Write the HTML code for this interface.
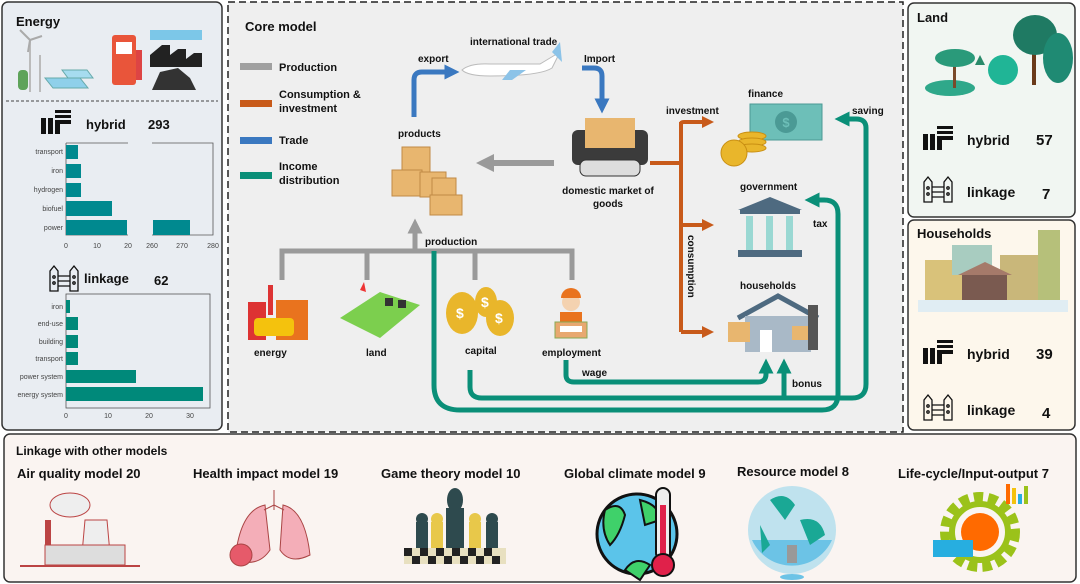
<!DOCTYPE html>
<html><head><meta charset="utf-8"><style>
html,body{margin:0;padding:0;background:#fff;}
svg{display:block;font-family:"Liberation Sans",Arial,sans-serif;}
.b{font-weight:bold;fill:#111;}
.t{font-size:7px;fill:#444;}
</style></head><body>
<svg width="1080" height="584" viewBox="0 0 1080 584" xmlns="http://www.w3.org/2000/svg">
<defs>
<g id="hy"><rect x="0" y="8" width="5" height="16" fill="#111"/><rect x="7" y="8" width="5" height="16" fill="#111"/><rect x="14" y="0" width="16" height="3" fill="#111"/><rect x="14" y="5" width="16" height="3" fill="#111"/><rect x="14" y="10" width="16" height="4" fill="#111"/><rect x="14" y="10" width="5" height="14" fill="#111"/></g>
<g id="lk" fill="none" stroke="#111" stroke-width="1.3"><path d="M1 26 V6 L5 1 L9 6 V26 Z"/><path d="M21 26 V6 L25 1 L29 6 V26 Z"/><path d="M9 11 H21 M9 16 H21 M9 21 H21"/><circle cx="5" cy="12" r="1.2"/><circle cx="5" cy="18" r="1.2"/><circle cx="25" cy="12" r="1.2"/><circle cx="25" cy="18" r="1.2"/></g>
<marker id="ao" viewBox="0 0 10 10" refX="5" refY="5" markerWidth="3" markerHeight="3" orient="auto"><path d="M0 0 L10 5 L0 10 z" fill="#c85a1a"/></marker>
<marker id="ab" viewBox="0 0 10 10" refX="5" refY="5" markerWidth="3" markerHeight="3" orient="auto"><path d="M0 0 L10 5 L0 10 z" fill="#3a78c0"/></marker>
<marker id="ag" viewBox="0 0 10 10" refX="5" refY="5" markerWidth="3" markerHeight="3" orient="auto"><path d="M0 0 L10 5 L0 10 z" fill="#9a9a9a"/></marker>
<marker id="at" viewBox="0 0 10 10" refX="5" refY="5" markerWidth="3" markerHeight="3" orient="auto"><path d="M0 0 L10 5 L0 10 z" fill="#0a8f78"/></marker>
</defs>

<!-- Energy panel -->
<rect x="2" y="2" width="220" height="428" rx="6" fill="#e9edf2" stroke="#333" stroke-width="1.5"/>
<text x="16" y="26" class="b" font-size="13">Energy</text>
<line x1="6" y1="101" x2="218" y2="101" stroke="#444" stroke-dasharray="3,2"/>
<!-- energy icons -->
<g><line x1="30" y1="40" x2="30" y2="92" stroke="#bbb" stroke-width="2"/><line x1="40" y1="55" x2="40" y2="92" stroke="#bbb" stroke-width="2"/><path d="M30 40 l-10 -10 M30 40 l12 -4 M30 40 l-2 12" stroke="#aaa" stroke-width="2"/>
<rect x="18" y="70" width="10" height="20" fill="#5ea35a" rx="4"/><path d="M45 78 l35 0 l8 10 l-35 0z" fill="#8fd0ea" stroke="#6aa"/><path d="M62 70 l25 0 l6 8 l-25 0z" fill="#a6dcef" stroke="#6aa"/>
<rect x="112" y="35" width="24" height="50" rx="3" fill="#e9553a"/><rect x="116" y="42" width="16" height="12" fill="#fff"/><rect x="136" y="50" width="6" height="30" fill="#d44"/>
<path d="M150 55 l12 -10 l8 0 l0 10 l8 -6 l8 0 l0 10 l8 -6 l8 0 l0 14 l-52 0z" fill="#222"/><rect x="150" y="30" width="52" height="10" fill="#7cc7e8"/>
<path d="M152 90 l8 -18 l18 -4 l12 10 l6 12z" fill="#333"/></g>
<!-- hybrid -->
<use href="#hy" x="41" y="110"/>
<text x="86" y="129" class="b" font-size="13">hybrid</text>
<text x="148" y="129" class="b" font-size="13">293</text>
<path d="M66 143 V235 H128 M152 235 H213 V143 H152 M128 143 H66" fill="none" stroke="#555" stroke-width="0.8"/>
<g fill="#00898f"><rect x="66" y="145" width="12" height="14"/><rect x="66" y="164" width="15" height="14"/><rect x="66" y="183" width="15" height="14"/><rect x="66" y="201" width="46" height="15"/><rect x="66" y="220" width="61" height="15"/><rect x="153" y="220" width="37" height="15"/></g>
<g class="t" text-anchor="end"><text x="63" y="154">transport</text><text x="63" y="173">iron</text><text x="63" y="192">hydrogen</text><text x="63" y="211">biofuel</text><text x="63" y="230">power</text></g>
<g class="t" text-anchor="middle"><text x="66" y="248">0</text><text x="97" y="248">10</text><text x="128" y="248">20</text><text x="152" y="248">260</text><text x="182" y="248">270</text><text x="213" y="248">280</text></g>
<!-- linkage -->
<use href="#lk" x="49" y="265"/>
<text x="84" y="283" class="b" font-size="13">linkage</text>
<text x="154" y="285" class="b" font-size="13">62</text>
<rect x="66" y="294" width="144" height="114" fill="none" stroke="#555" stroke-width="0.8"/>
<g fill="#00897a"><rect x="66" y="300" width="4" height="13"/><rect x="66" y="317" width="12" height="13"/><rect x="66" y="335" width="12" height="13"/><rect x="66" y="352" width="12" height="13"/><rect x="66" y="370" width="70" height="13"/><rect x="66" y="387" width="137" height="14"/></g>
<g class="t" text-anchor="end"><text x="63" y="309">iron</text><text x="63" y="326">end-use</text><text x="63" y="344">building</text><text x="63" y="361">transport</text><text x="63" y="379">power system</text><text x="63" y="397">energy system</text></g>
<g class="t" text-anchor="middle"><text x="66" y="418">0</text><text x="108" y="418">10</text><text x="149" y="418">20</text><text x="190" y="418">30</text></g>

<!-- Core model -->
<rect x="228" y="2" width="675" height="430" fill="#efefef" stroke="#222" stroke-width="1.5" stroke-dasharray="7,4"/>
<text x="245" y="31" class="b" font-size="13">Core model</text>
<rect x="240" y="63" width="32" height="7" fill="#a0a0a0"/><text x="279" y="71" class="b" font-size="11">Production</text>
<rect x="240" y="100" width="32" height="7" fill="#c85a1a"/><text x="279" y="98" class="b" font-size="11">Consumption &amp;</text><text x="279" y="112" class="b" font-size="11">investment</text>
<rect x="240" y="137" width="32" height="7" fill="#3a78c0"/><text x="279" y="144" class="b" font-size="11">Trade</text>
<rect x="240" y="172" width="32" height="7" fill="#0a8f78"/><text x="279" y="170" class="b" font-size="11">Income</text><text x="279" y="184" class="b" font-size="11">distribution</text>

<g font-size="10" class="b">
<text x="470" y="45">international trade</text>
<text x="418" y="62">export</text><text x="584" y="62">Import</text>
<text x="398" y="137">products</text>
<text x="608" y="194" text-anchor="middle">domestic market of</text>
<text x="608" y="207" text-anchor="middle">goods</text>
<text x="666" y="114">investment</text>
<text x="748" y="97">finance</text><text x="852" y="114">saving</text>
<text x="740" y="190">government</text><text x="813" y="227">tax</text>
<text x="740" y="289">households</text>
<text x="425" y="245">production</text>
<text x="254" y="356">energy</text><text x="366" y="356">land</text><text x="465" y="354">capital</text><text x="542" y="356">employment</text>
<text x="582" y="376">wage</text><text x="792" y="387">bonus</text>
<text transform="translate(688,235) rotate(90)">consumption</text>
</g>

<!-- trade arrows -->
<path d="M414 117 V80 Q414 72 422 72 H452" fill="none" stroke="#3a78c0" stroke-width="5" marker-end="url(#ab)"/>
<path d="M582 68 H594 Q602 68 602 76 V106" fill="none" stroke="#3a78c0" stroke-width="5" marker-end="url(#ab)"/>
<!-- plane -->
<path d="M462 70 Q470 63 490 64 L540 64 L560 52 L552 68 Q540 76 490 76 Q468 76 462 70z" fill="#fff" stroke="#bbb"/><path d="M510 70 l-8 10 l10 0 l14 -10z" fill="#8cc3e8"/><path d="M552 52 l8 -10 l2 20z" fill="#8cc3e8"/>
<!-- products boxes -->
<g fill="#e8b66f" stroke="#c08a45"><rect x="402" y="147" width="28" height="26"/><rect x="392" y="170" width="30" height="26"/><rect x="420" y="172" width="26" height="25"/><rect x="432" y="178" width="24" height="20"/><rect x="430" y="195" width="32" height="20"/></g>
<!-- gray arrow -->
<path d="M554 163 H485" stroke="#9a9a9a" stroke-width="6" marker-end="url(#ag)"/>
<!-- market -->
<rect x="572" y="130" width="76" height="35" rx="6" fill="#3b3b3b"/><rect x="585" y="118" width="50" height="30" fill="#e8b66f"/><rect x="580" y="160" width="60" height="16" rx="6" fill="#ddd" stroke="#333"/>
<!-- orange -->
<path d="M650 163 H681 M681 122 V332" fill="none" stroke="#c85a1a" stroke-width="4"/>
<path d="M681 124 Q681 122 684 122 H708" fill="none" stroke="#c85a1a" stroke-width="4" marker-end="url(#ao)"/>
<path d="M681 225 H708" stroke="#c85a1a" stroke-width="4" marker-end="url(#ao)"/>
<path d="M681 332 H708" stroke="#c85a1a" stroke-width="4" marker-end="url(#ao)"/>
<!-- finance -->
<rect x="750" y="104" width="72" height="36" fill="#6dbfb8" stroke="#4b9a95"/><circle cx="786" cy="122" r="11" fill="#4b9a95"/><text x="786" y="127" text-anchor="middle" font-size="13" fill="#6dbfb8" font-weight="bold">$</text>
<g fill="#e9b62b" stroke="#c98f12"><ellipse cx="752" cy="136" rx="14" ry="4"/><ellipse cx="752" cy="142" rx="14" ry="4"/><ellipse cx="752" cy="148" rx="14" ry="4"/><circle cx="734" cy="153" r="13"/></g>
<!-- government -->
<path d="M738 210 L770 197 L802 210z" fill="#4e6a80"/><rect x="740" y="210" width="60" height="4" fill="#4e6a80"/><g fill="#9ad8d3"><rect x="746" y="216" width="7" height="34"/><rect x="766" y="216" width="7" height="34"/><rect x="786" y="216" width="7" height="34"/></g><rect x="738" y="250" width="64" height="7" fill="#4e6a80"/>
<!-- households -->
<path d="M738 318 L778 296 L818 318" fill="none" stroke="#4e6a80" stroke-width="5"/><rect x="745" y="316" width="66" height="36" fill="#a9b9c7"/><rect x="760" y="330" width="12" height="22" fill="#fff"/><rect x="728" y="322" width="22" height="20" fill="#e8b66f"/><rect x="792" y="326" width="16" height="14" fill="#e8b66f"/><rect x="808" y="305" width="10" height="45" fill="#555"/>
<!-- production gray -->
<path d="M282 280 V251 H572 V280 M367 251 V280 M475 251 V280" fill="none" stroke="#9a9a9a" stroke-width="5"/>
<path d="M415 251 V226" stroke="#9a9a9a" stroke-width="5" marker-end="url(#ag)"/>
<!-- energy icon -->
<rect x="248" y="302" width="18" height="38" fill="#d33"/><rect x="268" y="285" width="5" height="30" fill="#d33"/><rect x="276" y="300" width="32" height="40" fill="#e9731e"/><rect x="254" y="318" width="40" height="18" rx="4" fill="#f4c20d"/>
<!-- land -->
<path d="M340 318 L380 292 L420 305 L380 338z" fill="#7ccf4e"/><path d="M360 290 l4 -8 l2 10z" fill="#e33"/><rect x="385" y="298" width="8" height="8" fill="#333"/><rect x="398" y="300" width="8" height="8" fill="#333"/>
<!-- capital -->
<g fill="#e9b62b"><ellipse cx="462" cy="313" rx="16" ry="21"/><ellipse cx="486" cy="302" rx="11" ry="15"/><ellipse cx="500" cy="318" rx="14" ry="18"/></g><g font-size="14" fill="#fff" font-weight="bold"><text x="456" y="318">$</text><text x="481" y="307">$</text><text x="495" y="323">$</text></g>
<!-- employment -->
<circle cx="571" cy="302" r="9" fill="#f4d2b0"/><path d="M561 298 a10 10 0 0 1 20 0z" fill="#e9731e"/><rect x="560" y="312" width="22" height="14" fill="#e9731e"/><rect x="555" y="322" width="32" height="16" fill="#e8a870" stroke="#8a5" /><rect x="560" y="326" width="22" height="6" fill="#fff"/>
<!-- teal -->
<g fill="none" stroke="#0a8f78" stroke-width="5">
<path d="M434 251 V385 Q434 410 460 410 H822 Q838 410 838 394 V214 Q838 200 824 200 H812" marker-end="url(#at)"/>
<path d="M470 370 V387 Q470 398 482 398 H852 Q866 398 866 384 V128 Q866 119 856 119 H842" marker-end="url(#at)"/>
<path d="M784 398 V366" marker-end="url(#at)"/>
<path d="M566 360 V375 Q566 382 574 382 H758 Q766 382 766 374 V366" marker-end="url(#at)"/>
</g>

<!-- Land panel -->
<rect x="908" y="3" width="167" height="214" rx="6" fill="#f1f6f2" stroke="#333" stroke-width="1.5"/>
<text x="917" y="22" class="b" font-size="13">Land</text>
<g><ellipse cx="950" cy="88" rx="25" ry="8" fill="#2fa88a"/><rect x="953" y="60" width="3" height="28" fill="#7a4a2a"/><ellipse cx="955" cy="58" rx="20" ry="9" fill="#2a9a7a"/><ellipse cx="1003" cy="70" rx="15" ry="15" fill="#20b596"/><rect x="1032" y="40" width="4" height="45" fill="#6a3a1a"/><ellipse cx="1035" cy="35" rx="22" ry="20" fill="#1f7a63"/><ellipse cx="1058" cy="58" rx="15" ry="25" fill="#1f8a73"/><path d="M975 65 l5 -10 l5 10z" fill="#2a8a6a"/></g>
<use href="#hy" x="923" y="126"/><text x="967" y="145" class="b" font-size="14">hybrid</text><text x="1036" y="145" class="b" font-size="15">57</text>
<use href="#lk" x="923" y="176"/><text x="967" y="197" class="b" font-size="14">linkage</text><text x="1042" y="199" class="b" font-size="15">7</text>

<!-- Households panel -->
<rect x="908" y="220" width="167" height="210" rx="6" fill="#fdf7ec" stroke="#333" stroke-width="1.5"/>
<text x="917" y="238" class="b" font-size="13">Households</text>
<rect x="925" y="260" width="40" height="50" fill="#d9c27a"/><rect x="952" y="245" width="40" height="30" fill="#a8ccc0"/><rect x="1000" y="255" width="40" height="55" fill="#c9b77a"/><rect x="1038" y="230" width="22" height="80" fill="#b6c07a"/><path d="M958 275 L985 262 L1012 275z" fill="#a57a6a"/><rect x="962" y="275" width="45" height="30" fill="#7a5a50"/><rect x="918" y="300" width="150" height="12" fill="#e0edf3"/>
<use href="#hy" x="923" y="340"/><text x="967" y="359" class="b" font-size="14">hybrid</text><text x="1036" y="359" class="b" font-size="15">39</text>
<use href="#lk" x="923" y="394"/><text x="967" y="415" class="b" font-size="14">linkage</text><text x="1042" y="418" class="b" font-size="15">4</text>

<!-- Bottom panel -->
<rect x="4" y="434" width="1072" height="148" rx="6" fill="#faf4f1" stroke="#333" stroke-width="1.5"/>
<text x="16" y="455" font-size="12" class="b">Linkage with other models</text>
<g font-size="13" class="b">
<text x="17" y="478">Air quality model 20</text>
<text x="193" y="478">Health impact model 19</text>
<text x="381" y="478">Game theory model 10</text>
<text x="564" y="478">Global climate model 9</text>
<text x="737" y="476">Resource model 8</text>
<text x="898" y="478">Life-cycle/Input-output 7</text>
</g>
<!-- air -->
<g><ellipse cx="70" cy="505" rx="20" ry="12" fill="#eee" stroke="#b44"/><rect x="45" y="520" width="6" height="45" fill="#b44"/><path d="M85 520 l22 0 l4 45 l-30 0z" fill="#eee" stroke="#b44"/><rect x="45" y="545" width="80" height="20" fill="#ddd" stroke="#b44"/><rect x="20" y="565" width="120" height="2" fill="#b44"/></g>
<!-- lungs -->
<g fill="#f4aeb8" stroke="#a44"><path d="M265 505 Q240 510 235 560 Q258 568 270 550z"/><path d="M283 505 Q305 510 310 555 Q290 565 280 550z"/><circle cx="241" cy="555" r="11" fill="#e65a6a"/></g><path d="M274 490 V510 M274 505 l-10 5 M274 505 l10 5" stroke="#a44" fill="none"/>
<!-- chess -->
<g fill="#2e4a4e"><ellipse cx="455" cy="500" rx="8" ry="12"/><rect x="446" y="508" width="18" height="40"/><circle cx="422" cy="519" r="6"/><rect x="416" y="522" width="12" height="26"/><circle cx="492" cy="519" r="6"/><rect x="486" y="522" width="12" height="26"/></g><g fill="#e8c84a"><circle cx="437" cy="519" r="6"/><rect x="431" y="522" width="12" height="26"/><circle cx="475" cy="519" r="6"/><rect x="469" y="522" width="12" height="26"/></g>
<rect x="404" y="548" width="102" height="16" fill="#e8e0c0"/><g fill="#222"><rect x="404" y="548" width="8" height="8"/><rect x="420" y="548" width="8" height="8"/><rect x="436" y="548" width="8" height="8"/><rect x="452" y="548" width="8" height="8"/><rect x="468" y="548" width="8" height="8"/><rect x="484" y="548" width="8" height="8"/><rect x="412" y="556" width="8" height="8"/><rect x="428" y="556" width="8" height="8"/><rect x="444" y="556" width="8" height="8"/><rect x="460" y="556" width="8" height="8"/><rect x="476" y="556" width="8" height="8"/><rect x="492" y="556" width="8" height="8"/></g>
<!-- globe climate -->
<circle cx="637" cy="534" r="40" fill="#5bc4ea" stroke="#111" stroke-width="3"/><path d="M605 510 q15 -10 20 5 q-5 20 -15 30 q-10 -15 -5 -35z M640 500 q20 5 20 20 l-15 5z M625 570 q10 -15 25 -5 l-10 15z" fill="#3fd16a" stroke="#111" stroke-width="2"/><rect x="656" y="488" width="14" height="72" rx="7" fill="#eee" stroke="#111" stroke-width="2"/><rect x="660" y="505" width="6" height="50" fill="#e0214a"/><circle cx="663" cy="565" r="11" fill="#e0214a" stroke="#111" stroke-width="2"/>
<!-- resource globe -->
<circle cx="792" cy="530" r="44" fill="#bfe2ee"/><path d="M752 540 a44 44 0 0 0 80 0z" fill="#6cc3e6"/><path d="M770 500 q15 -10 25 5 l-10 15z M800 520 q20 -5 25 15 l-15 10z M760 525 l10 20 l-8 8z" fill="#1aa895"/><rect x="787" y="545" width="10" height="18" fill="#999"/><ellipse cx="792" cy="577" rx="12" ry="3" fill="#6cc3e6"/>
<!-- gear -->
<circle cx="980" cy="532" r="34" fill="none" stroke="#9bc21a" stroke-width="12" stroke-dasharray="9,5"/><circle cx="980" cy="532" r="28" fill="none" stroke="#9bc21a" stroke-width="6"/><circle cx="980" cy="532" r="19" fill="#ff6a00"/><rect x="933" y="540" width="40" height="17" fill="#27aee0"/><rect x="1006" y="484" width="4" height="20" fill="#ff6a00"/><rect x="1012" y="488" width="4" height="16" fill="#f4c20d"/><rect x="1018" y="494" width="4" height="10" fill="#27aee0"/><rect x="1024" y="486" width="4" height="18" fill="#9bc21a"/>
</svg>
</body></html>
